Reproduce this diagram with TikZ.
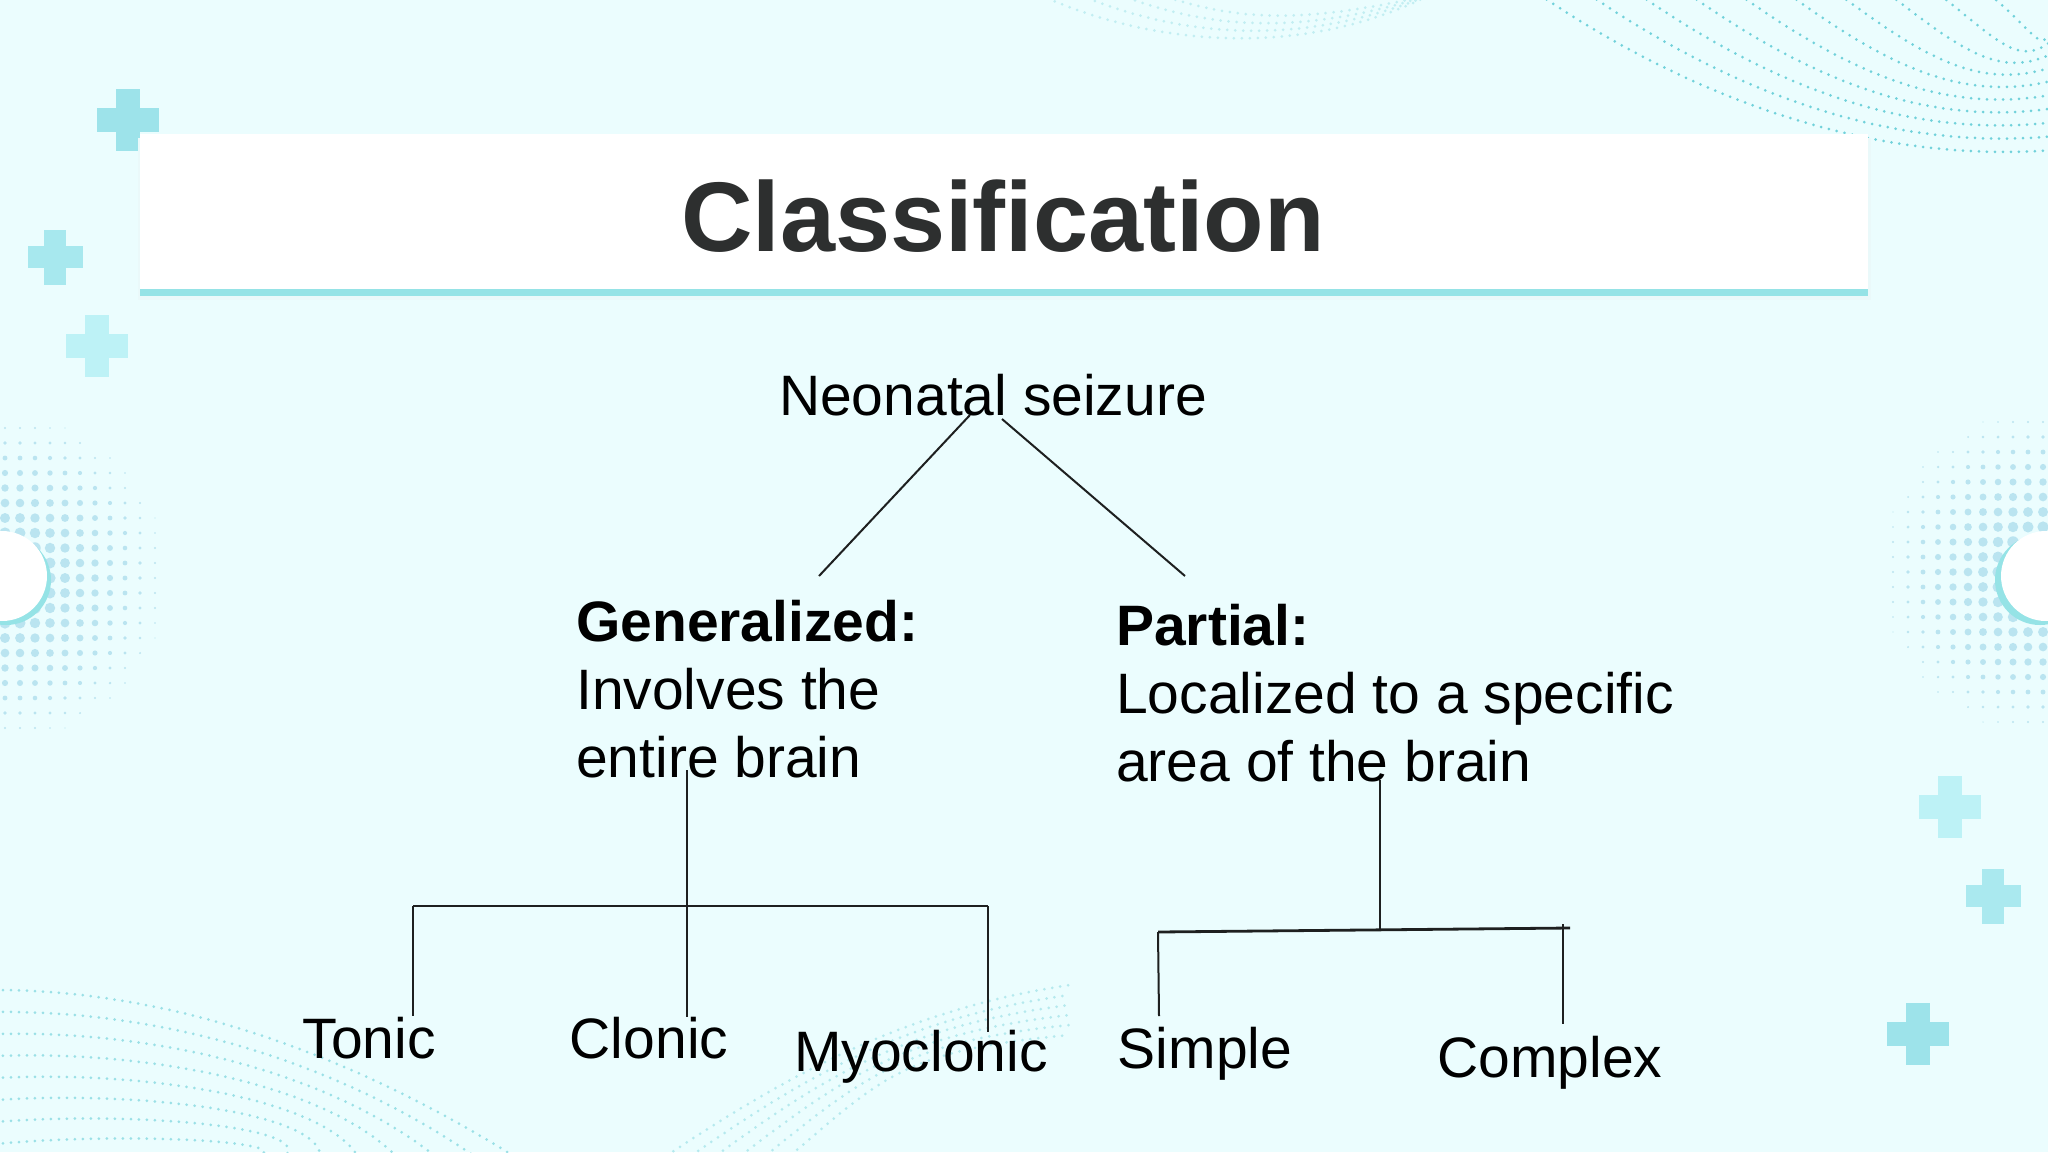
\documentclass[tikz,border=0pt]{standalone}
\usepackage{fontspec}
\setmainfont{Liberation Sans}
\usetikzlibrary{positioning}
\definecolor{bgc}{RGB}{235,253,254}
\definecolor{crossc}{RGB}{157,227,234}
\definecolor{crosslc}{RGB}{189,242,246}
\definecolor{dotc}{RGB}{186,228,240}
\definecolor{wavec}{RGB}{100,205,215}
\definecolor{shadowc}{RGB}{149,227,230}
\definecolor{titlec}{RGB}{45,47,47}
\definecolor{linec}{RGB}{30,32,32}

\begin{document}
\begin{tikzpicture}[x=1pt, y=-1pt, every node/.style={inner sep=0pt, text=black, font=\fontsize{57}{68}\selectfont}, leaf/.style={anchor=base}, blk/.style={anchor=north west, align=left}, link/.style={draw=linec, line width=2pt}, bar/.style={draw=linec, line width=2.8pt}, wave/.style={draw=wavec, line width=3pt, dash pattern=on 0pt off 8pt, line cap=round}]
	\fill[bgc] (0,0) rectangle (2048,1152);
	\useasboundingbox (0,0) rectangle (2048,1152);
	\foreach \k in {0,...,9} {\draw[wave, opacity=0.9] (1540+50*\k,-5) .. controls (1680+40*\k,90-6*\k) and (1860+20*\k,165-12*\k) .. (2055,150-14*\k);}
	\foreach \k in {0,...,3} {\draw[wave, opacity=0.3] (1040+40*\k,-5) .. controls (1150+30*\k,45-8*\k) and (1300,60-12*\k) .. (1430,-5);}
	\foreach \k in {0,...,7} {\draw[wave, opacity=0.6] (-5,990+22*\k) .. controls (150,990+20*\k) and (330,1040+15*\k) .. (520-40*\k,1160);}
	\foreach \k in {0,...,5} {\draw[wave, opacity=0.4] (660+25*\k,1160) .. controls (780+20*\k,1080) and (900,1010+8*\k) .. (1070,985+10*\k);}
	\foreach \i in {0,...,11} \foreach \j in {-11,...,11} {\pgfmathsetmacro\rr{7.5-0.042*veclen(15*\i,15*\j)} \ifdim\rr pt>0.7pt \fill[dotc] (5+15*\i,578+15*\j) circle[radius=\rr pt];\fi}
	\foreach \i in {0,...,11} \foreach \j in {-11,...,11} {\pgfmathsetmacro\rr{7.5-0.042*veclen(15*\i,15*\j)} \ifdim\rr pt>0.7pt \fill[dotc] (2043-15*\i,572+15*\j) circle[radius=\rr pt];\fi}
	\fill[shadowc] (6,580) circle[radius=45pt]; \fill[white] (2,576) circle[radius=45pt];
	\fill[shadowc] (2040,580) circle[radius=45pt]; \fill[white] (2046,576) circle[radius=45pt];
	\foreach \x/\y/\s/\c in {128/120/62/crossc, 55/257/55/crossc!70!crosslc, 97/346/62/crosslc, 1950/807/62/crosslc, 1993/896/55/crossc!60!crosslc, 1918/1034/62/crossc} {\fill[\c] ({\x-\s/2},{\y-0.2*\s}) rectangle ({\x+\s/2},{\y+0.2*\s}); \fill[\c] ({\x-0.2*\s},{\y-\s/2}) rectangle ({\x+0.2*\s},{\y+\s/2});}
	\fill[shadowc!20] (138,138) rectangle (1871,300);
	\fill[shadowc] (140,138) rectangle (1868,296);
	\fill[white] (140,134) rectangle (1868,289);
	\node[font=\fontsize{99}{110}\selectfont\bfseries, text=titlec, anchor=base] (title) at (1003,251) {Classification};
	\node[anchor=base] (root) at (993,415) {Neonatal seizure};
	\node[blk] (gen) at (576,600) {\textbf{Generalized:}\\Involves the\\entire brain};
	\node[blk] (par) at (1116,604) {\textbf{Partial:}\\Localized to a specific\\area of the brain};
	\node[leaf] (tonic) at (369,1058) {Tonic};
	\node[leaf] (clonic) at (649,1058) {Clonic};
	\node[leaf] (myo) at (921,1071) {Myoclonic};
	\node[leaf] (simple) at (1205,1068) {Simple};
	\node[leaf] (complex) at (1550,1077) {Complex};
	\coordinate (r1) at (970,415); \coordinate (r2) at (1002,419);
	\coordinate (g0) at (819,576); \coordinate (p0) at (1185,576);
	\coordinate (g1) at (687,770); \coordinate (g2) at (687,1017);
	\coordinate (gbL) at (413,906); \coordinate (gbR) at (988,906);
	\coordinate (tT) at (413,1016); \coordinate (mT) at (988,1032);
	\coordinate (p1) at (1380,780); \coordinate (p2) at (1380,930);
	\coordinate (pbL) at (1158,932); \coordinate (pbR) at (1570,928);
	\coordinate (sT) at (1159,1016); \coordinate (cA) at (1563,924); \coordinate (cT) at (1563,1024);
	\draw[link] (r1) -- (g0); \draw[link] (r2) -- (p0);
	\draw[link] (g1) -- (g2); \draw[bar] (gbL) -- (gbR);
	\draw[link] (gbL) -- (tT); \draw[link] (gbR) -- (mT);
	\draw[link] (p1) -- (p2); \draw[bar] (pbL) -- (pbR);
	\draw[link] (pbL) -- (sT); \draw[link] (cA) -- (cT);
\end{tikzpicture}
\end{document}
